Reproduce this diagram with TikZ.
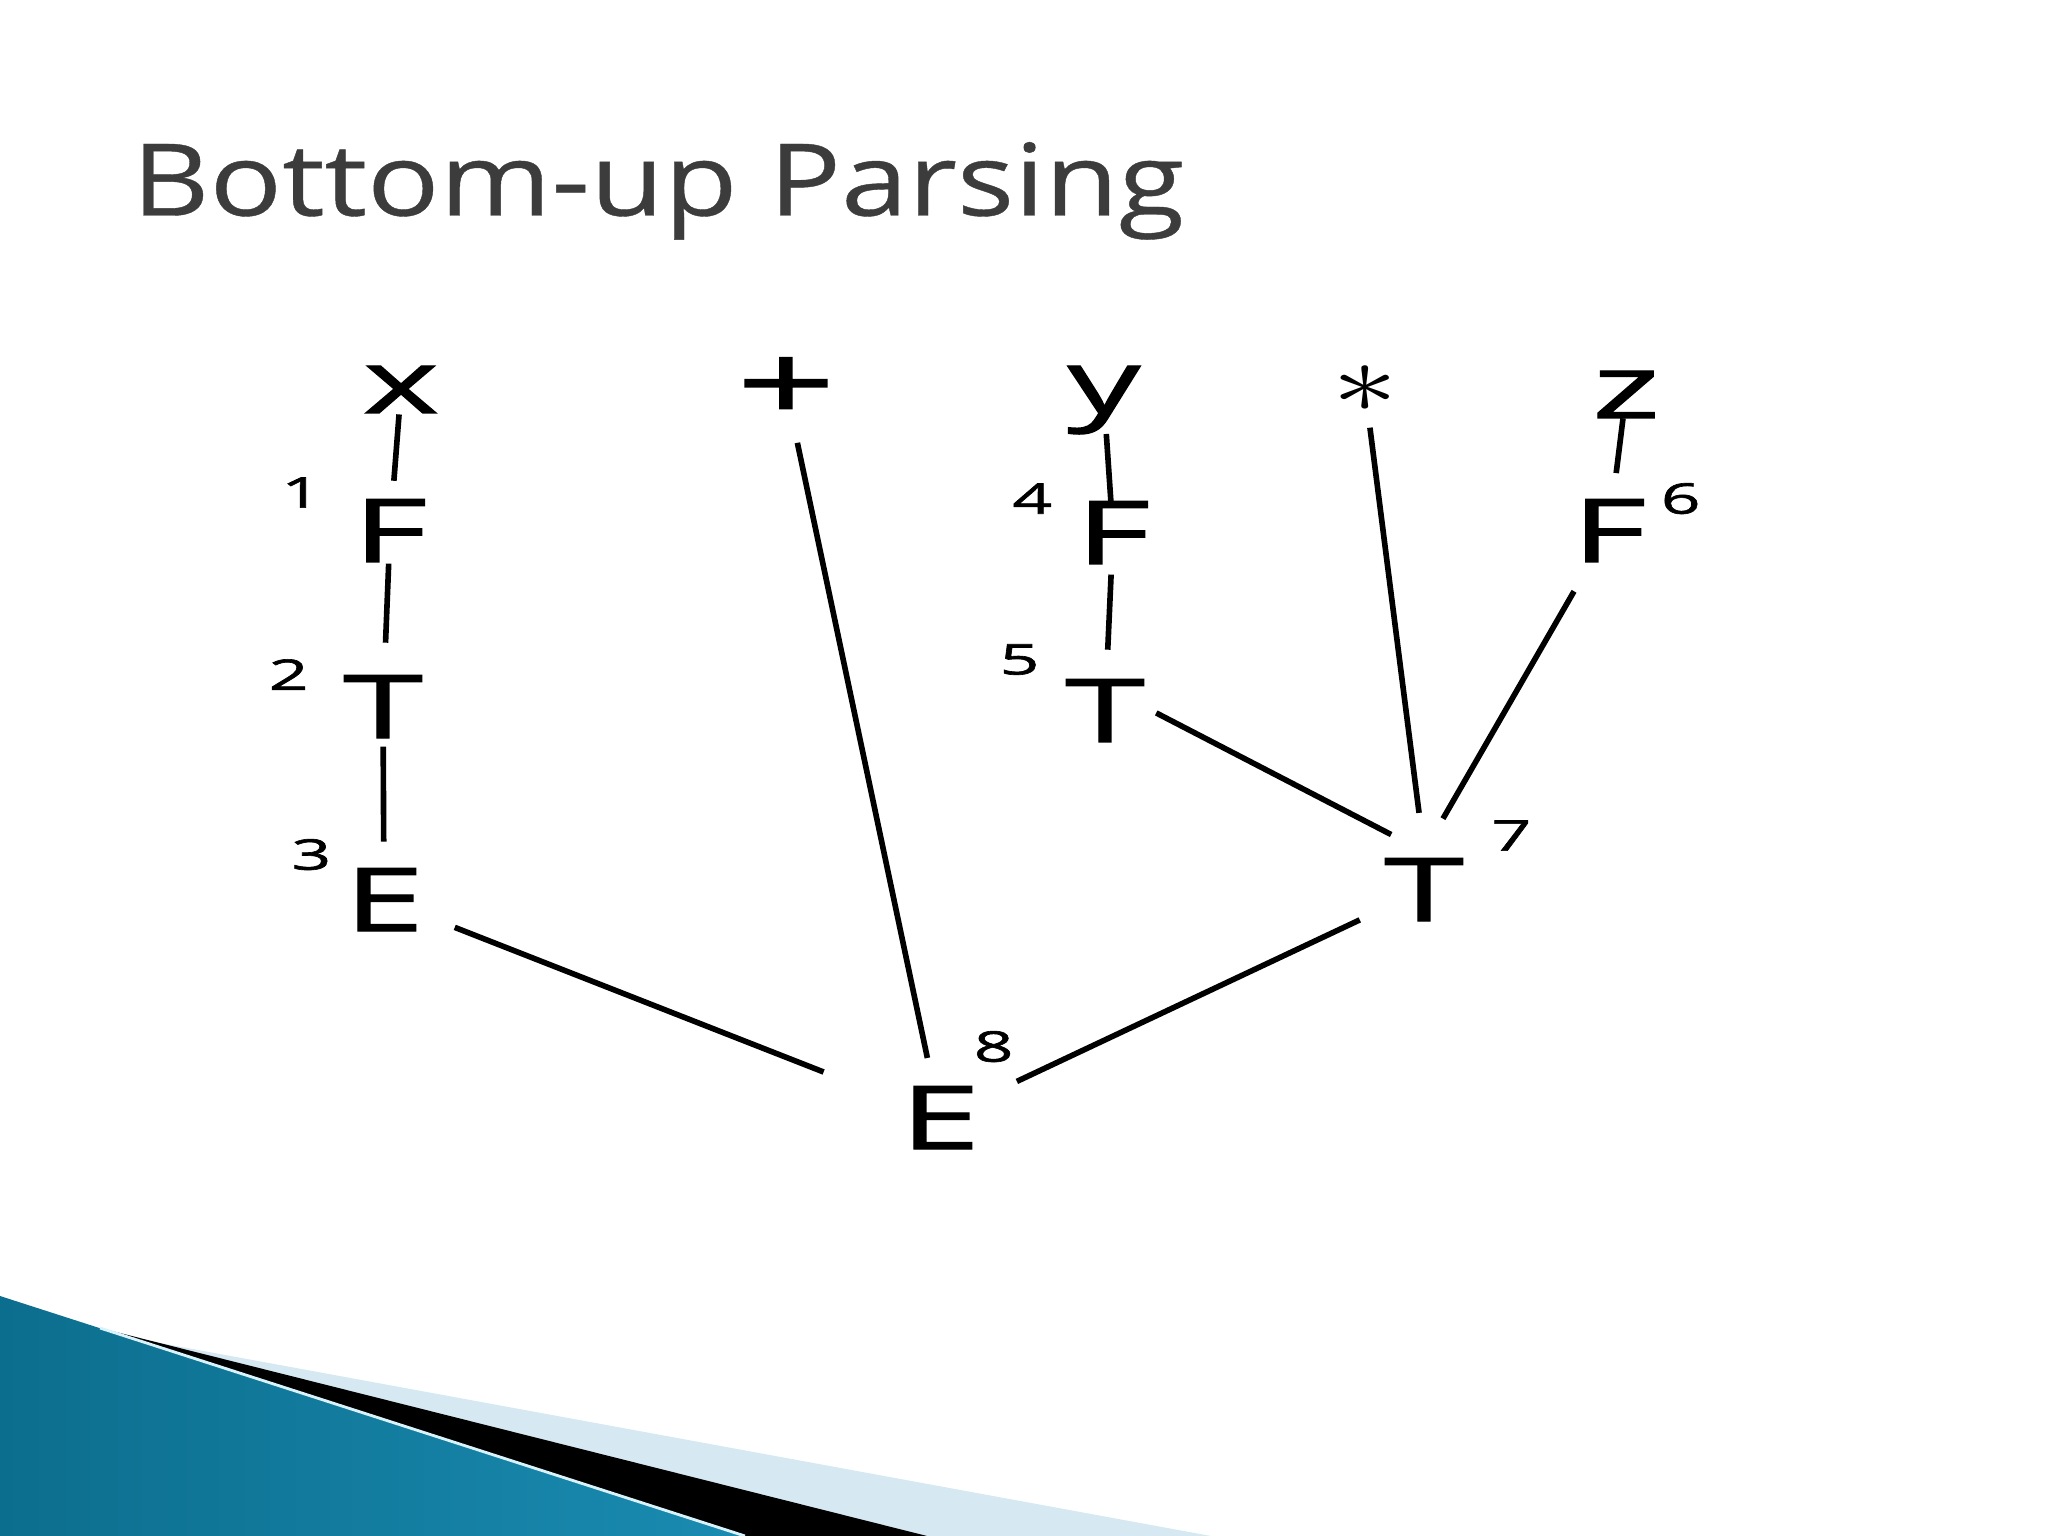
\documentclass[tikz,border=0pt]{standalone}
\usepackage{fontspec}
\setmainfont{Open Sans}
\newfontfamily\titlefamily[FakeStretch=1.2, FakeBold=0.4]{Open Sans}
\newfontfamily\treefamily[FakeStretch=1.65, FakeBold=1.5]{Open Sans}
\newcommand{\treesym}{\treefamily\fontsize{25}{30}\selectfont}
\newcommand{\treeidx}{\treefamily\fontsize{12}{14}\selectfont}
\definecolor{titlegray}{HTML}{3C3C3C}
\definecolor{swooshdark}{HTML}{0C6E8E}
\definecolor{swooshlight}{HTML}{4DB1D6}
\definecolor{swooshmid}{HTML}{1A8BB1}
\definecolor{swooshpale}{HTML}{D6E9F2}

\tikzset{
  sym/.style={font=\treesym, inner sep=0.06cm, anchor=base},
  idx/.style={font=\treeidx, inner sep=0.05cm},
  branch/.style={line width=1.6pt},
}

\begin{document}
\begin{tikzpicture}
\useasboundingbox (0,0) rectangle (20.48,-15.36);

% slide decoration, bottom left
\fill[swooshpale] (1.0,-13.28) -- (1.11,-13.34) -- (12.11,-15.36) -- (7.45,-15.36) -- cycle;
\fill[black] (1.0,-13.28) -- (9.27,-15.36) -- (7.45,-15.36) -- cycle;
\shade[left color=swooshdark, middle color=swooshlight, right color=swooshmid] (0,-12.96) -- (7.45,-15.36) -- (0,-15.36) -- cycle;
\draw[white!85!cyan, line width=0.8pt] (1.0,-13.28) -- (7.45,-15.36);

% title
\node[anchor=base west, text=titlegray, font=\titlefamily\fontsize{28.5}{34}\selectfont, inner sep=0] (title) at (1.31,-2.155) {Bottom-up Parsing};

% input tokens
\node[sym] (x) at (4.01,-4.13) {x};
\node[sym, anchor=center] (plus) at (7.86,-3.89) {\scalebox{1.2}{+}};
\node[sym] (y) at (11.04,-4.13) {y};
\node[sym, anchor=center] (ast) at (13.65,-3.89) {\scalebox{1.5}[1.15]{$\ast$}};
\node[sym] (z) at (16.26,-4.18) {z};

% reductions, numbered in the order they happen
\node[sym, label={[idx, anchor=east, xshift=-0.19cm]north west:1}] (f1) at (3.90,-5.62) {F};
\node[sym, label={[idx, anchor=east, xshift=-0.22cm, yshift=-0.06cm]north west:2}] (t2) at (3.83,-7.38) {T};
\node[sym, label={[idx, anchor=east, yshift=0.07cm]north west:3}] (e3) at (3.84,-9.31) {E};
\node[sym, label={[idx, anchor=east, xshift=-0.11cm, yshift=-0.04cm]north west:4}] (f4) at (11.13,-5.64) {F};
\node[sym, label={[idx, anchor=east, xshift=-0.13cm, yshift=0.13cm]north west:5}] (t5) at (11.05,-7.42) {T};
\node[sym, label={[idx, anchor=west, xshift=0.02cm, yshift=-0.06cm]north east:6}] (f6) at (16.09,-5.62) {F};
\node[sym, label={[idx, anchor=west, xshift=0.15cm, yshift=0.16cm]north east:7}] (t7) at (14.24,-9.21) {T};
\node[sym, label={[idx, anchor=west, xshift=-0.19cm, yshift=0.33cm]north east:8}] (e8) at (9.40,-11.49) {E};

% branches
\draw[branch, shorten <=0.25cm, shorten >=0.50cm] (x.center) -- (f1.center);
\draw[branch, shorten <=0.33cm, shorten >=0.64cm] (f1.center) -- (t2.center);
\draw[branch, shorten <=0.40cm, shorten >=0.58cm] (t2.center) -- (e3.center);
\draw[branch, shorten <=0.76cm, shorten >=1.25cm] (e3.center) -- (e8.center);
\draw[branch, shorten <=0.55cm, shorten >=0.61cm] (plus.center) -- (e8.center);
\draw[branch, shorten <=0.34cm, shorten >=0.30cm] (y.center) -- (f4.center);
\draw[branch, shorten <=0.42cm, shorten >=0.61cm] (f4.center) -- (t5.center);
\draw[branch, shorten <=0.39cm, shorten >=0.39cm] (ast.center) -- (t7.north);
\draw[branch, shorten <=0.05cm, shorten >=0.37cm] (t5.east) -- (t7.north);
\draw[branch, shorten <=0.24cm, shorten >=0.58cm] (z.center) -- (f6.center);
\draw[branch, shorten <=0.70cm, shorten >=0.38cm] (f6.center) -- (t7.north);
\draw[branch, shorten <=0.71cm, shorten >=0.85cm] (t7.center) -- (e8.center);
\end{tikzpicture}
\end{document}
